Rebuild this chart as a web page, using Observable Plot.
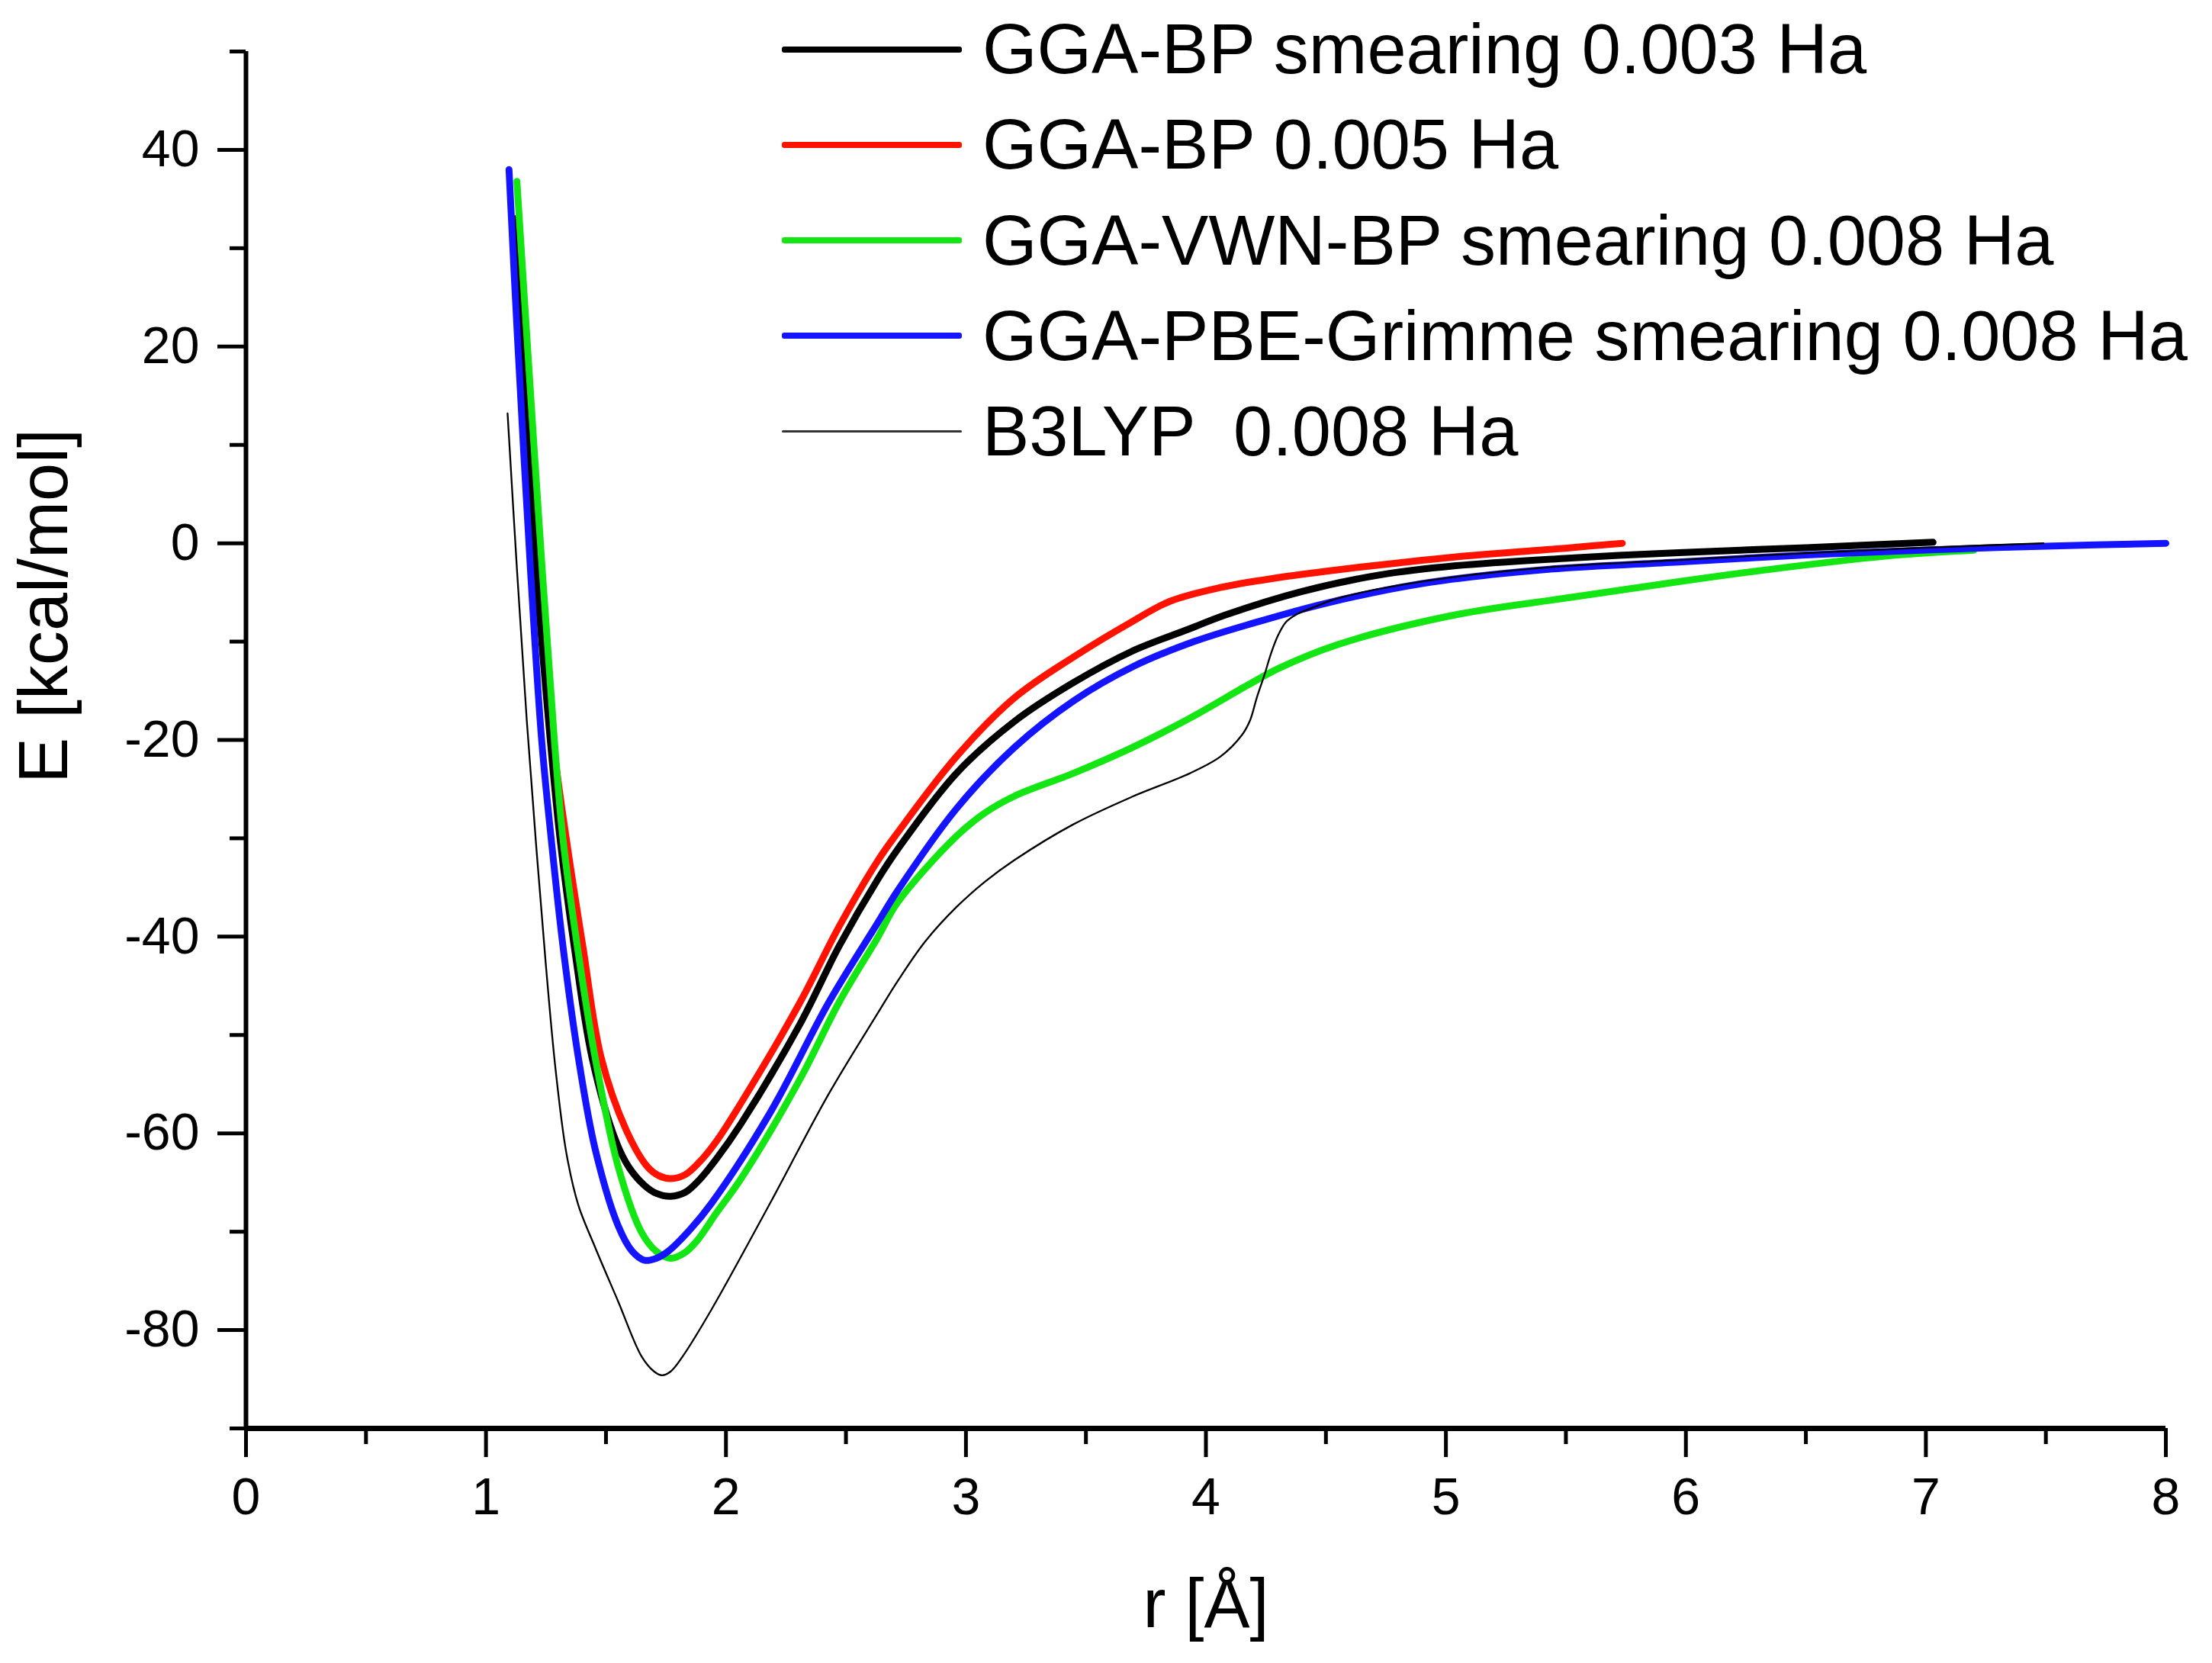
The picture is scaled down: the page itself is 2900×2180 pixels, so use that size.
<!DOCTYPE html>
<html>
<head>
<meta charset="utf-8">
<script src="https://cdn.jsdelivr.net/npm/d3@7"></script>
<script src="https://cdn.jsdelivr.net/npm/@observablehq/plot@0.6"></script>
<style>
  html, body { margin: 0; padding: 0; background: #fff; }
  #wrap { position: relative; width: 2900px; height: 2180px; font-family: "Liberation Sans", Arial, sans-serif; }
  #legend { position: absolute; left: 1025px; top: 2px; }
  .row { position: relative; height: 125.3px; white-space: pre; }
  .sw { position: absolute; left: 0; width: 236px; border-radius: 3px; }
  .lab { position: absolute; left: 263px; top: 0; font-size: 92px; line-height: 125.3px; color: #000; white-space: pre; }
</style>
</head>
<body>
<div id="wrap"><div id="legend"></div></div>
<script>
// ---- Data ----
const seriesNames = ["GGA-BP smearing 0.003 Ha", "GGA-BP 0.005 Ha", "GGA-VWN-BP smearing 0.008 Ha", "GGA-PBE-Grimme smearing 0.008 Ha", "B3LYP  0.008 Ha"];
const seriesColors = ["#000000", "#ff1200", "#14e614", "#1414ff", "#000000"];
const legendColors = ["#000000", "#ff1200", "#14e614", "#1414ff", "#333333"];

// GGA-BP smearing 0.003 Ha (black, thick)
const rBP003 = [1.122, 1.21, 1.268, 1.309, 1.369, 1.442, 1.545, 1.60, 1.661, 1.71, 1.77, 1.83, 1.89, 1.96, 2.063, 2.306, 2.473, 2.632, 2.716, 2.96, 3.203, 3.446, 3.69, 3.932, 4.08, 4.4, 4.73, 5.035, 5.522, 5.97, 6.5, 7.03];
const eBP003 = [33, -2.9, -20, -30.1, -41.2, -52.3, -61, -63.6, -65.3, -66.1, -66.4, -66.0, -64.7, -62.6, -59.0, -49.0, -40.9, -34.2, -31.1, -23.4, -18.1, -14.2, -11.0, -8.7, -7.3, -4.9, -3.2, -2.3, -1.5, -0.95, -0.45, 0.1];

// GGA-BP 0.005 Ha (red)
const rBP005 = [1.132, 1.228, 1.28, 1.335, 1.405, 1.48, 1.585, 1.673, 1.72, 1.77, 1.83, 1.89, 1.96, 2.063, 2.306, 2.473, 2.632, 2.716, 2.96, 3.203, 3.446, 3.69, 3.85, 4.06, 4.3, 4.549, 4.8, 5.035, 5.522, 5.735];
const eBP005 = [32, -2.9, -20, -30.1, -41.2, -52.3, -59.7, -63.4, -64.3, -64.6, -64.2, -62.9, -60.8, -56.9, -46.8, -38.9, -32.3, -29.4, -21.7, -15.7, -11.6, -8.0, -5.9, -4.5, -3.5, -2.7, -2.0, -1.4, -0.45, 0.0];

// GGA-VWN-BP smearing 0.008 Ha (green)
const rVWN = [1.129, 1.168, 1.235, 1.285, 1.321, 1.382, 1.455, 1.551, 1.649, 1.71, 1.77, 1.83, 1.88, 1.96, 2.063, 2.306, 2.473, 2.632, 2.716, 2.96, 3.08, 3.203, 3.446, 3.69, 3.932, 4.176, 4.305, 4.549, 5.035, 5.522, 5.97, 6.4, 6.88, 7.2];
const eVWN = [36.8, 21.9, -2.9, -20, -30.1, -41.2, -52.3, -63.4, -70.1, -72.0, -72.7, -72.1, -70.9, -68.1, -64.6, -54.6, -46.6, -40.1, -36.5, -29.8, -27.4, -25.7, -23.4, -20.8, -17.8, -14.4, -12.7, -10.3, -7.3, -5.5, -3.9, -2.5, -1.2, -0.7];

// GGA-PBE-Grimme smearing 0.008 Ha (blue)
const rPBE = [1.096, 1.131, 1.186, 1.232, 1.272, 1.322, 1.385, 1.455, 1.551, 1.61, 1.661, 1.71, 1.759, 1.85, 1.94, 2.184, 2.428, 2.632, 2.716, 2.96, 3.2, 3.45, 3.7, 3.95, 4.2, 4.5, 4.9, 5.4, 5.97, 6.5, 7.04, 7.5, 8.0];
const ePBE = [38.0, 21.0, -2.9, -20, -30.1, -41.2, -52.3, -61.6, -69.4, -72.0, -72.9, -72.7, -72.0, -69.8, -67.1, -57.9, -46.7, -38.6, -35.3, -27.0, -20.8, -16.0, -12.5, -10.0, -8.1, -6.1, -4.1, -2.7, -1.9, -1.2, -0.65, -0.3, 0.0];

// B3LYP 0.008 Ha (thin black)
const rB3LYP = [1.09, 1.13, 1.17, 1.21, 1.25, 1.29, 1.335, 1.385, 1.455, 1.551, 1.649, 1.70, 1.734, 1.77, 1.819, 1.94, 2.184, 2.428, 2.632, 2.716, 2.83, 2.96, 3.08, 3.203, 3.446, 3.69, 3.932, 4.06, 4.15, 4.184, 4.212, 4.245, 4.27, 4.30, 4.334, 4.38, 4.45, 4.55, 4.9, 5.4, 5.97, 6.5, 7.0, 7.49];
const eB3LYP = [13.2, -3, -18, -31, -43, -53.5, -62, -67.3, -71.6, -77.1, -82.7, -84.2, -84.6, -84.2, -82.7, -77.9, -67.1, -56.0, -47.8, -44.5, -40.5, -37.0, -34.4, -32.2, -28.6, -25.8, -23.4, -21.7, -19.5, -18.0, -15.7, -13.3, -11.3, -9.4, -8.0, -7.2, -6.5, -5.6, -3.9, -2.5, -1.7, -1.0, -0.45, 0.0];

const xMajorTicks = [0, 1, 2, 3, 4, 5, 6, 7, 8];
const xMinorTicks = [0.5, 1.5, 2.5, 3.5, 4.5, 5.5, 6.5, 7.5];
const yMajorTicks = [-80, -60, -40, -20, 0, 20, 40];
const yMinorTicks = [-90, -70, -50, -30, -10, 10, 30, 50];
const xTitle = "r [Å]";
const yTitle = "E [kcal/mol]";

// ---- Build tables ----
const toRows = (rs, es) => rs.map((r, i) => ({r, E: es[i]}));
const series = [
  {data: toRows(rBP003, eBP003), width: 9},
  {data: toRows(rBP005, eBP005), width: 9},
  {data: toRows(rVWN, eVWN), width: 9},
  {data: toRows(rPBE, ePBE), width: 9},
  {data: toRows(rB3LYP, eB3LYP), width: 2.3}
];
const drawOrder = [1, 0, 2, 3, 4];

const fmt = d => String(d);

const chart = Plot.plot({
  width: 2900,
  height: 2180,
  marginLeft: 322,
  marginRight: 61,
  marginTop: 67,
  marginBottom: 308,
  style: {fontFamily: "Liberation Sans, Arial, sans-serif", background: "white", color: "black"},
  x: {domain: [0, 8], label: null},
  y: {domain: [-90, 50], label: null},
  marks: [
    ...drawOrder.map(i => Plot.line(series[i].data, {
      x: "r", y: "E",
      stroke: seriesColors[i],
      strokeWidth: series[i].width,
      curve: "catmull-rom",
      strokeLinecap: "round",
      strokeLinejoin: "round"
    })),
    Plot.ruleX([0], {strokeWidth: 6}),
    Plot.ruleY([-90], {strokeWidth: 7}),
    Plot.axisX(xMajorTicks, {tickSize: 38, tickPadding: 26, fontSize: 68, strokeWidth: 5, tickFormat: fmt, label: null}),
    Plot.axisX(xMinorTicks, {tickSize: 21, strokeWidth: 5, fill: "none", label: null}),
    Plot.axisY(yMajorTicks, {tickSize: 37, tickPadding: 24, fontSize: 68, strokeWidth: 5, tickFormat: fmt, label: null}),
    Plot.axisY(yMinorTicks, {tickSize: 21, strokeWidth: 5, fill: "none", label: null}),
    Plot.text([yTitle], {text: d => d, frameAnchor: "left", rotate: -90, dx: -263, dy: 57, fontSize: 90, lineAnchor: "middle"}),
    Plot.text([xTitle], {text: d => d, frameAnchor: "bottom", dy: 232, fontSize: 90, lineAnchor: "middle"})
  ]
});

const wrap = document.getElementById("wrap");
wrap.insertBefore(chart, wrap.firstChild);

// ---- Legend (HTML overlay, top right) ----
const legend = document.getElementById("legend");
seriesNames.forEach((name, i) => {
  const row = document.createElement("div");
  row.className = "row";
  const sw = document.createElement("div");
  sw.className = "sw";
  const h = i === 4 ? 3 : 8;
  sw.style.height = h + "px";
  sw.style.top = (62.6 - h / 2) + "px";
  sw.style.background = legendColors[i];
  const lab = document.createElement("div");
  lab.className = "lab";
  lab.textContent = name;
  row.appendChild(sw);
  row.appendChild(lab);
  legend.appendChild(row);
});
</script>
</body>
</html>
